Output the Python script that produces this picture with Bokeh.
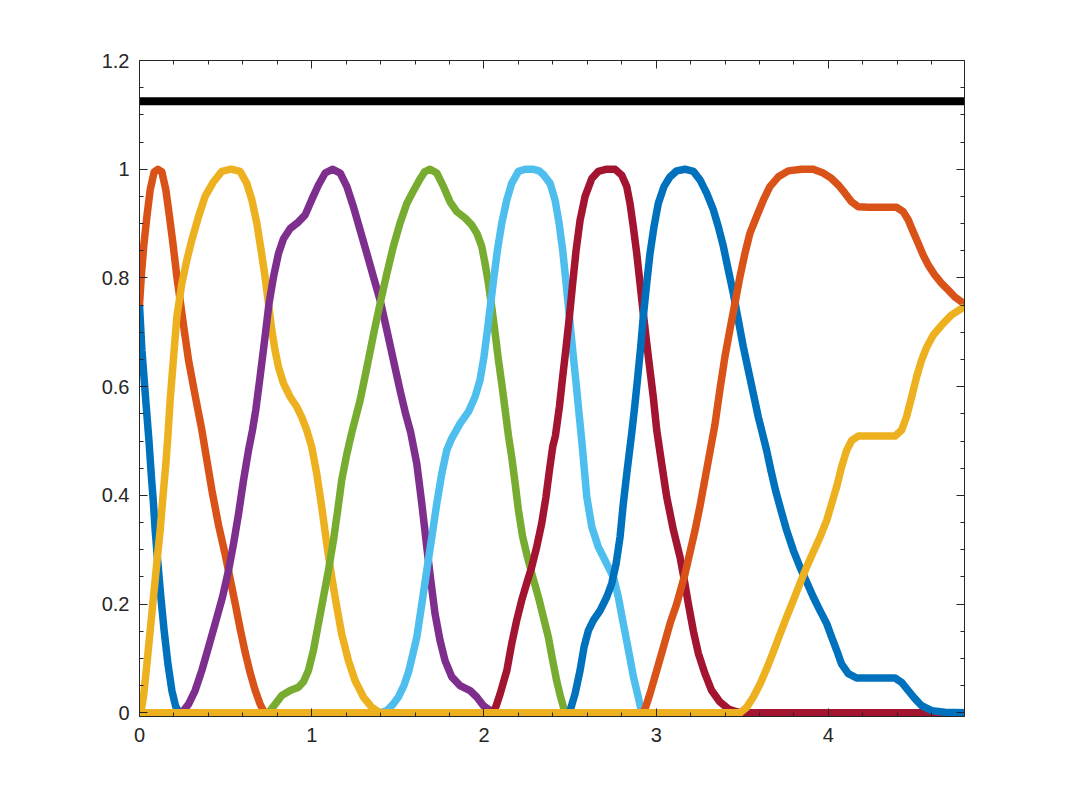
from bokeh.plotting import figure
from bokeh.models import Range1d, LinearAxis, FixedTicker, CustomJSTickFormatter
from bokeh.embed import file_html
from bokeh.resources import INLINE

# curves (x, y pairs), drawn in plot order
blue1_x = [0, 0.014, 0.04, 0.055, 0.07, 0.08, 0.091, 0.107, 0.124, 0.143, 0.165, 0.188, 0.21, 0.232, 4.79]
blue1_y = [0.75, 0.667, 0.56, 0.5, 0.43, 0.39, 0.336, 0.274, 0.213, 0.151, 0.09, 0.041, 0.012, 0, 0]

orange1_x = [0, 0.012, 0.025, 0.043, 0.062, 0.085, 0.107, 0.13, 0.153, 0.174, 0.194, 0.217, 0.236, 0.256,
             0.285, 0.323, 0.362, 0.391, 0.42, 0.459, 0.497, 0.526, 0.555, 0.584, 0.613, 0.642, 0.671, 0.7,
             0.726, 4.79]
orange1_y = [0.75, 0.81, 0.86, 0.913, 0.962, 0.995, 1.0, 0.995, 0.962, 0.913, 0.864, 0.802, 0.759, 0.712,
             0.648, 0.584, 0.52, 0.465, 0.41, 0.345, 0.292, 0.247, 0.202, 0.155, 0.112, 0.074, 0.042, 0.016,
             0, 0]

yellow1_x = [0, 0.01, 0.023, 0.043, 0.062, 0.081, 0.1, 0.12, 0.136, 0.153, 0.165, 0.178, 0.198, 0.217, 0.246,
             0.275, 0.304, 0.343, 0.381, 0.43, 0.478, 0.532, 0.584, 0.623, 0.652, 0.681, 0.706, 0.729, 0.749,
             0.768, 0.787, 0.807, 0.836, 0.875, 0.913, 0.942, 0.971, 1.0, 1.029, 1.058, 1.087, 1.116, 1.146,
             1.174, 1.213, 1.252, 1.3, 1.349, 1.397, 4.79]
yellow1_y = [0, 0.005, 0.029, 0.09, 0.151, 0.213, 0.274, 0.336, 0.397, 0.458, 0.51, 0.575, 0.655, 0.729, 0.79,
             0.833, 0.87, 0.913, 0.95, 0.977, 0.996, 1.0, 0.996, 0.974, 0.944, 0.901, 0.851, 0.802, 0.753,
             0.704, 0.667, 0.636, 0.606, 0.581, 0.563, 0.544, 0.52, 0.489, 0.44, 0.379, 0.311, 0.25, 0.194,
             0.145, 0.096, 0.059, 0.029, 0.01, 0, 0]

purple_x = [0, 0.246, 0.285, 0.323, 0.362, 0.401, 0.439, 0.482, 0.517, 0.546, 0.575, 0.604, 0.633, 0.656,
            0.675, 0.7, 0.729, 0.752, 0.778, 0.807, 0.836, 0.875, 0.923, 0.962, 1.0, 1.039, 1.078, 1.12, 1.165,
            1.204, 1.242, 1.281, 1.32, 1.358, 1.397, 1.436, 1.474, 1.513, 1.545, 1.575, 1.61, 1.639, 1.668,
            1.691, 1.716, 1.745, 1.774, 1.813, 1.861, 1.919, 1.958, 1.997, 2.036, 2.05, 4.79]
purple_y = [0, 0, 0.016, 0.041, 0.078, 0.121, 0.164, 0.213, 0.262, 0.311, 0.366, 0.428, 0.483, 0.52,
            0.557, 0.618, 0.692, 0.753, 0.802, 0.845, 0.872, 0.891, 0.903, 0.916, 0.944, 0.971, 0.993, 1.0, 0.993,
            0.968, 0.931, 0.888, 0.845, 0.802, 0.759, 0.704, 0.649, 0.593, 0.55, 0.515, 0.458, 0.385, 0.305,
            0.244, 0.182, 0.133, 0.096, 0.066, 0.05, 0.041, 0.029, 0.013, 0.004, 0, 0]

green_x = [0, 0.749, 0.788, 0.826, 0.875, 0.923, 0.952, 0.981, 1.01, 1.039, 1.068, 1.097, 1.126, 1.151, 1.174,
           1.203, 1.232, 1.281, 1.32, 1.358, 1.397, 1.436, 1.474, 1.513, 1.552, 1.59, 1.625, 1.655, 1.687,
           1.726, 1.765, 1.803, 1.842, 1.891, 1.93, 1.959, 1.987, 2.006, 2.026, 2.045, 2.065, 2.084, 2.103,
           2.123, 2.142, 2.161, 2.181, 2.2, 2.225, 2.252, 2.283, 2.316, 2.345, 2.374, 2.399, 2.422, 2.445,
           2.471, 4.79]
green_y = [0, 0, 0.016, 0.032, 0.041, 0.047, 0.057, 0.078, 0.115, 0.164, 0.213, 0.262, 0.317, 0.373, 0.428,
           0.475, 0.515, 0.575, 0.635, 0.695, 0.753, 0.808, 0.858, 0.901, 0.937, 0.96, 0.98, 0.995, 1.0,
           0.993, 0.968, 0.94, 0.922, 0.91, 0.897, 0.882, 0.858, 0.827, 0.79, 0.747, 0.698, 0.649, 0.606,
           0.557, 0.51, 0.471, 0.422, 0.373, 0.323, 0.287, 0.25, 0.213, 0.176, 0.139, 0.096, 0.059, 0.029,
           0, 0]

lightblue_x = [0, 1.397, 1.436, 1.47, 1.503, 1.535, 1.562, 1.585, 1.61, 1.639, 1.668, 1.697, 1.726, 1.755,
               1.784, 1.813, 1.84, 1.861, 1.91, 1.948, 1.977, 2.0, 2.02, 2.039, 2.058, 2.078, 2.103, 2.132,
               2.161, 2.2, 2.24, 2.283, 2.32, 2.345, 2.384, 2.413, 2.436, 2.457, 2.477, 2.496, 2.515, 2.535,
               2.554, 2.568, 2.582, 2.597, 2.626, 2.664, 2.713, 2.751, 2.78, 2.809, 2.839, 2.868, 2.896,
               2.916, 4.79]
lightblue_y = [0, 0, 0.004, 0.015, 0.029, 0.05, 0.075, 0.105, 0.139, 0.2, 0.262, 0.323, 0.385, 0.44,
               0.483, 0.505, 0.52, 0.532, 0.554, 0.581, 0.612, 0.655, 0.704, 0.753, 0.802, 0.851, 0.9, 0.943,
               0.974, 0.996, 1.0, 1.0, 0.997, 0.99, 0.974, 0.943, 0.901, 0.851, 0.79, 0.729, 0.667, 0.606,
               0.544, 0.5, 0.45, 0.397, 0.342, 0.305, 0.274, 0.25, 0.213, 0.164, 0.115, 0.066, 0.029,
               0, 0]

darkred_x = [0, 2.05, 2.07, 2.094, 2.133, 2.161, 2.19, 2.219, 2.248, 2.277, 2.306, 2.335, 2.36, 2.38, 2.399,
             2.415, 2.438, 2.457, 2.477, 2.496, 2.515, 2.535, 2.558, 2.587, 2.626, 2.664, 2.713, 2.761, 2.8,
             2.829, 2.848, 2.867, 2.887, 2.906, 2.925, 2.945, 2.964, 2.983, 3.003, 3.032, 3.061, 3.1, 3.138,
             3.16, 3.187, 3.216, 3.245, 3.283, 3.322, 3.37, 3.419, 3.467, 3.49, 4.79]
darkred_y = [0, 0, 0.012, 0.035, 0.078, 0.127, 0.17, 0.207, 0.238, 0.268, 0.305, 0.348, 0.397, 0.446, 0.489,
             0.51, 0.563, 0.618, 0.673, 0.729, 0.79, 0.851, 0.906, 0.95, 0.983, 0.996, 1.0, 1.0, 0.989,
             0.968, 0.937, 0.894, 0.845, 0.79, 0.735, 0.68, 0.63, 0.581, 0.52, 0.458, 0.397, 0.336, 0.287,
             0.25, 0.2, 0.15, 0.109, 0.072, 0.041, 0.02, 0.007, 0.002, 0, 0]

blue2_x = [0, 2.49, 2.5, 2.529, 2.558, 2.581, 2.606, 2.635, 2.674, 2.713, 2.742, 2.767, 2.79, 2.809, 2.829,
           2.848, 2.858, 2.873, 2.891, 2.91, 2.925, 2.945, 2.964, 2.987, 3.012, 3.045, 3.08, 3.119, 3.167,
           3.216, 3.255, 3.293, 3.332, 3.361, 3.39, 3.419, 3.448, 3.477, 3.506, 3.535, 3.564, 3.593, 3.616,
           3.641, 3.666, 3.693, 3.724, 3.757, 3.796, 3.835, 3.873, 3.912, 3.951, 3.99, 4.019, 4.048, 4.076,
           4.115, 4.164, 4.251, 4.386, 4.425, 4.463, 4.502, 4.541, 4.599, 4.676, 4.79]
blue2_y = [0, 0, 0.004, 0.035, 0.078, 0.121, 0.151, 0.17, 0.188, 0.213, 0.238, 0.274, 0.323, 0.385, 0.44,
           0.489, 0.515, 0.557, 0.612, 0.673, 0.729, 0.79, 0.845, 0.894, 0.937, 0.968, 0.986, 0.997, 1.0,
           0.996, 0.98, 0.956, 0.925, 0.894, 0.858, 0.814, 0.771, 0.722, 0.673, 0.63, 0.587, 0.544, 0.515,
           0.483, 0.446, 0.409, 0.373, 0.336, 0.299, 0.268, 0.241, 0.213, 0.188, 0.164, 0.139, 0.115, 0.09,
           0.072, 0.064, 0.064, 0.064, 0.056, 0.041, 0.026, 0.013, 0.004, 0.001, 0]

orange2_x = [0, 2.92, 2.935, 2.964, 3.003, 3.042, 3.08, 3.119, 3.167, 3.196, 3.225, 3.254, 3.283, 3.312, 3.341,
             3.37, 3.399, 3.428, 3.457, 3.486, 3.515, 3.544, 3.583, 3.622, 3.66, 3.709, 3.767, 3.844, 3.912,
             3.97, 4.018, 4.057, 4.096, 4.134, 4.173, 4.231, 4.328, 4.395, 4.434, 4.463, 4.492, 4.521, 4.55,
             4.579, 4.618, 4.657, 4.695, 4.734, 4.79]
orange2_y = [0, 0, 0.007, 0.035, 0.078, 0.121, 0.164, 0.2, 0.255, 0.295, 0.335, 0.38, 0.43, 0.48, 0.53,
             0.595, 0.655, 0.705, 0.753, 0.802, 0.845, 0.882, 0.913, 0.943, 0.968, 0.986, 0.997, 1.0, 1.0,
             0.993, 0.983, 0.971, 0.956, 0.94, 0.931, 0.93, 0.93, 0.93, 0.922, 0.907, 0.885, 0.864, 0.842,
             0.824, 0.805, 0.79, 0.778, 0.765, 0.752]

yellow2_x = [0, 3.487, 3.525, 3.564, 3.603, 3.641, 3.68, 3.719, 3.757, 3.796, 3.835, 3.873, 3.912, 3.951,
             3.99, 4.019, 4.048, 4.076, 4.106, 4.135, 4.173, 4.25, 4.386, 4.425, 4.454, 4.483, 4.512, 4.541,
             4.571, 4.609, 4.657, 4.715, 4.79]
yellow2_y = [0, 0, 0.01, 0.029, 0.053, 0.081, 0.112, 0.145, 0.176, 0.207, 0.238, 0.268, 0.296, 0.323,
             0.354, 0.385, 0.416, 0.452, 0.483, 0.501, 0.509, 0.509, 0.509, 0.52, 0.545, 0.581, 0.618, 0.649,
             0.673, 0.695, 0.713, 0.732, 0.747]

black_x = [0, 4.79]
black_y = [1.125, 1.125]

x_ticks = [0, 1, 2, 3, 4]
y_ticks = [0, 0.2, 0.4, 0.6, 0.8, 1, 1.2]
y_labels = ["0", "0.2", "0.4", "0.6", "0.8", "1", "1.2"]

series = [
    (blue1_x, blue1_y, "#0072BD"),
    (orange1_x, orange1_y, "#D95319"),
    (yellow1_x, yellow1_y, "#EDB120"),
    (purple_x, purple_y, "#7E2F8E"),
    (green_x, green_y, "#77AC30"),
    (lightblue_x, lightblue_y, "#4DBEEE"),
    (darkred_x, darkred_y, "#A2142F"),
    (blue2_x, blue2_y, "#0072BD"),
    (orange2_x, orange2_y, "#D95319"),
    (yellow2_x, yellow2_y, "#EDB120"),
]

AX = "#262626"

# y range starts a hair below zero so the thick zero lines are not cut in half
p = figure(width=1059, height=792, x_range=Range1d(0, 4.79), y_range=Range1d(-0.0068, 1.2),
           output_backend="svg", toolbar_location=None,
           min_border_left=139, min_border_right=95, min_border_top=60, min_border_bottom=76)
p.xgrid.visible = False
p.ygrid.visible = False
p.outline_line_color = AX
p.background_fill_color = "white"
p.border_fill_color = "white"

for xs, ys, c in series:
    p.line(xs, ys, line_color=c, line_width=7.5, line_join="round")
p.line(black_x, black_y, line_color="black", line_width=8)

xt = FixedTicker(ticks=x_ticks, minor_ticks=[i * 0.2 for i in range(25)])
yt = FixedTicker(ticks=y_ticks, minor_ticks=[i * 0.05 for i in range(25)])

def style(ax, ticker):
    ax.ticker = ticker
    ax.axis_line_color = AX
    ax.major_tick_line_color = AX
    ax.minor_tick_line_color = AX
    ax.major_tick_in = 8
    ax.major_tick_out = 0
    ax.minor_tick_in = 4
    ax.minor_tick_out = 0
    ax.major_label_text_font = "Liberation Sans"
    ax.major_label_text_font_size = "20px"
    ax.major_label_text_color = AX

style(p.xaxis[0], xt)
style(p.yaxis[0], yt)
p.xaxis[0].major_label_standoff = 11
p.yaxis[0].major_label_standoff = 10
p.yaxis[0].major_label_overrides = dict(zip(y_ticks, y_labels))

blank = CustomJSTickFormatter(code="return ''")
top = LinearAxis(formatter=blank)
right = LinearAxis(formatter=blank)
style(top, xt)
style(right, yt)
p.add_layout(top, "above")
p.add_layout(right, "right")

open("out.html", "w").write(file_html(p, INLINE))
